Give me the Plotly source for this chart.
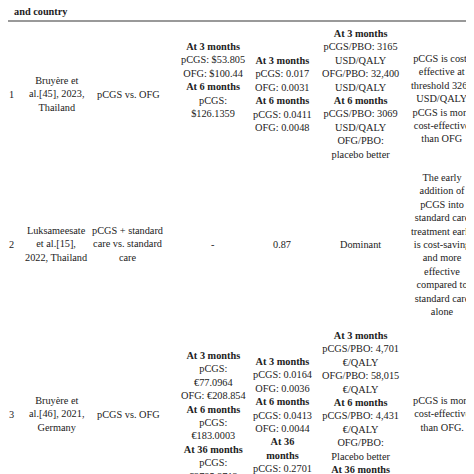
import plotly.graph_objects as go

row_numbers = ["1", "2", "3"]
studies = ["Bruyère et<br>al.[45], 2023,<br>Thailand",
           "Luksameesate<br>et al.[15],<br>2022, Thailand",
           "Bruyère et<br>al.[46], 2021,<br>Germany"]
comparisons = ["pCGS vs. OFG", "pCGS + standard<br>care vs. standard<br>care", "pCGS vs. OFG"]
costs = ["<b>At 3 months</b><br>pCGS: $53.805<br>OFG: $100.44<br><b>At 6 months</b><br>pCGS:<br>$126.1359",
         "-",
         "<b>At 3 months</b><br>pCGS:<br>€77.0964<br>OFG: €208.854<br><b>At 6 months</b><br>pCGS:<br>€183.0003<br><b>At 36 months</b><br>pCGS:<br>€2785.2712"]
qalys = ["<b>At 3 months</b><br>pCGS: 0.017<br>OFG: 0.0031<br><b>At 6 months</b><br>pCGS: 0.0411<br>OFG: 0.0048",
         "0.87",
         "<b>At 3 months</b><br>pCGS: 0.0164<br>OFG: 0.0036<br><b>At 6 months</b><br>pCGS: 0.0413<br>OFG: 0.0044<br><b>At 36</b><br><b>months</b><br>pCGS: 0.2701"]
icers = ["<b>At 3 months</b><br>pCGS/PBO: 3165<br>USD/QALY<br>OFG/PBO: 32,400<br>USD/QALY<br><b>At 6 months</b><br>pCGS/PBO: 3069<br>USD/QALY<br>OFG/PBO:<br>placebo better",
         "Dominant",
         "<b>At 3 months</b><br>pCGS/PBO: 4,701<br>€/QALY<br>OFG/PBO: 58,015<br>€/QALY<br><b>At 6 months</b><br>pCGS/PBO: 4,431<br>€/QALY<br>OFG/PBO:<br>Placebo better<br><b>At 36 months</b><br>pCGS/PBO:<br>..."]
conclusions = ["pCGS is cost-<br>effective at<br>threshold 3260<br>USD/QALY<br>pCGS is more<br>cost-effective<br>than OFG",
               "The early<br>addition of<br>pCGS into<br>standard care<br>treatment early<br>is cost-saving<br>and more<br>effective<br>compared to<br>standard care<br>alone",
               "pCGS is more<br>cost-effective<br>than OFG."]

W = H = 474
col_x = [3, 48, 120, 205, 274, 352, 434]
row_y = [86, 236, 406]
tops = {(2, 3): 339.5, (2, 4): 345.5, (2, 5): 319.5}
row1_centers = {3: 72, 6: 90}

fig = go.Figure()
fig.update_layout(width=W, height=H, margin=dict(l=0, r=0, t=0, b=0),
                  plot_bgcolor="white", paper_bgcolor="white",
                  xaxis=dict(visible=False, range=[0, W]),
                  yaxis=dict(visible=False, range=[H, 0]))
font = dict(family="Liberation Serif", size=10.3, color="#222222")

cols = [row_numbers, studies, comparisons, costs, qalys, icers, conclusions]
for r in range(3):
    for c, col in enumerate(cols):
        if (r, c) in tops:
            y, anchor = tops[(r, c)], "top"
        elif r == 0 and c in row1_centers:
            y, anchor = row1_centers[c], "middle"
        else:
            y, anchor = row_y[r], "middle"
        fig.add_annotation(x=col_x[c], y=y, xref="x", yref="y", text=col[r],
                           showarrow=False, align="center", xanchor="center",
                           yanchor=anchor, font=font)

fig.add_annotation(x=4, y=3, xref="x", yref="y", text="<b>and country</b>",
                   showarrow=False, xanchor="left", yanchor="middle", font=font)
fig.add_shape(type="line", x0=0, x1=W, y0=13, y1=13, xref="x", yref="y",
              line=dict(color="#777777", width=1.5))

fig.write_html("out.html")
